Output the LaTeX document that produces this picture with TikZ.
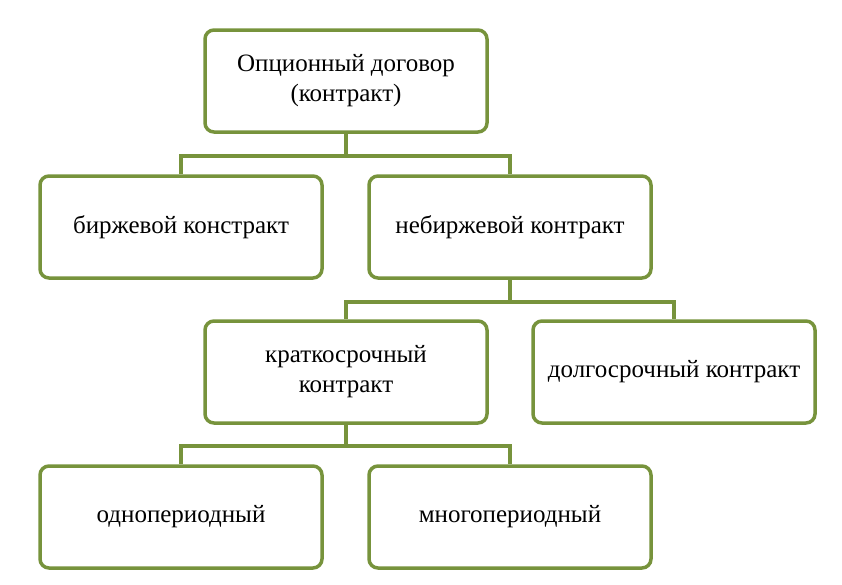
\documentclass[tikz,border=0pt]{standalone}
\usepackage{fontspec}
\setmainfont{Liberation Serif}
\begin{document}
\begin{tikzpicture}[x=1pt,y=-1pt,
  box/.style={draw=boxgreen,line width=3.5pt,rounded corners=9pt,minimum width=282pt,minimum height=102pt,align=center,font=\fontsize{25}{30}\selectfont,fill=white,inner sep=2pt},
  conn/.style={draw=boxgreen,line width=3.5pt}]
\definecolor{boxgreen}{HTML}{77933C}
\useasboundingbox (0,0) rectangle (842,584);
\node[box] (top) at (346,81) {Опционный договор\\(контракт)};
\node[box] (b1) at (181,227) {биржевой констракт};
\node[box] (b2) at (510,227) {небиржевой контракт};
\node[box] (c1) at (346,372) {краткосрочный\\контракт};
\node[box] (c2) at (674,372) {долгосрочный контракт};
\node[box] (d1) at (181,517) {однопериодный};
\node[box] (d2) at (510,517) {многопериодный};
\draw[conn] (top.south) -- ++(0,22) coordinate (j1);
\draw[conn] (j1) -| (b1.north);
\draw[conn] (j1) -| (b2.north);
\draw[conn] (b2.south) -- ++(0,22) coordinate (j2);
\draw[conn] (j2) -| (c1.north);
\draw[conn] (j2) -| (c2.north);
\draw[conn] (c1.south) -- ++(0,21) coordinate (j3);
\draw[conn] (j3) -| (d1.north);
\draw[conn] (j3) -| (d2.north);
\end{tikzpicture}
\end{document}
